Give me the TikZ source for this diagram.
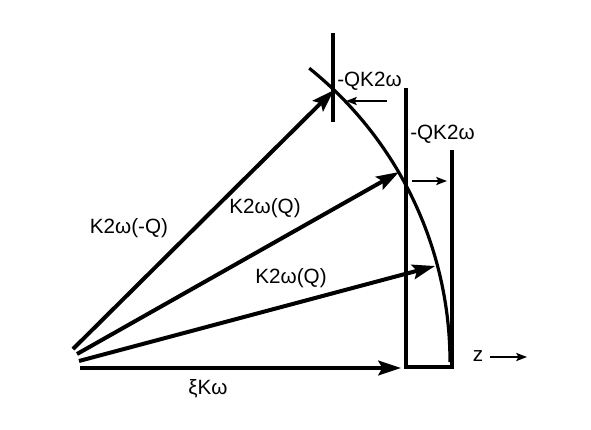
\documentclass[tikz,border=0pt]{standalone}
\usepackage{fontspec}
\setmainfont{Liberation Sans}
\usetikzlibrary{arrows.meta}
\begin{document}
\begin{tikzpicture}[x=0.75pt,y=-0.75pt,
  vec/.style={line width=3pt,-{Stealth[length=17pt,width=11pt,inset=3pt]}},
  bar/.style={line width=3.4pt},
  arcline/.style={line width=2.4pt},
  small/.style={line width=1.5pt,-{Stealth[length=8pt,width=6pt,inset=1.5pt]}},
  lbl/.style={font=\fontsize{15.5}{18}\selectfont,inner sep=0pt}]
\useasboundingbox (0,0) rectangle (591,429);
% origins of the vectors
\coordinate (O1) at (73,349);
\coordinate (O2) at (77,354);
\coordinate (O3) at (79,361);
\coordinate (O4) at (80,368);
% tips
\coordinate (T1) at (334,90);
\coordinate (T2) at (399,172);
\coordinate (T3) at (435,266);
\coordinate (T4) at (401,368);
% arc centre
\coordinate (C) at (73,362);
% bars
\coordinate (B1a) at (333,33);
\coordinate (B1b) at (333,122);
\coordinate (B2a) at (406,88);
\coordinate (B2b) at (406,369);
\coordinate (B3a) at (452,150);
\coordinate (B3b) at (452,369);
\coordinate (U1) at (408,367);
\coordinate (U2) at (450,367);
% small arrows
\coordinate (S1a) at (387,101);
\coordinate (S1b) at (346,101);
\coordinate (S2a) at (412,181);
\coordinate (S2b) at (447,181);
\coordinate (Za) at (490,357);
\coordinate (Zb) at (527,357);

\draw[arcline] (C) ++(0:377) arc[start angle=0,end angle=-51.2,radius=377];

\draw[bar] (B1a) -- (B1b);
\draw[bar] (B2a) -- (B2b);
\draw[bar] (B3a) -- (B3b);
\draw[line width=3pt] (U1) -- (U2);

\draw[vec] (O1) -- (T1);
\draw[vec] (O2) -- (T2);
\draw[vec] (O3) -- (T3);
\draw[vec] (O4) -- (T4);

\draw[small] (S1a) -- (S1b);
\draw[small] (S2a) -- (S2b);
\draw[small] (Za) -- (Zb);

\node[lbl,anchor=west] (q1) at (337,81) {-QK2ω};
\node[lbl,anchor=west] (q2) at (410,134) {-QK2ω};
\node[lbl] (k1) at (129,228) {K2ω(-Q)};
\node[lbl] (k2) at (265,208) {K2ω(Q)};
\node[lbl] (k3) at (291,278) {K2ω(Q)};
\node[lbl] (xi) at (208,389) {ξKω};
\node[lbl] (z) at (478,356) {z};
\end{tikzpicture}
\end{document}
